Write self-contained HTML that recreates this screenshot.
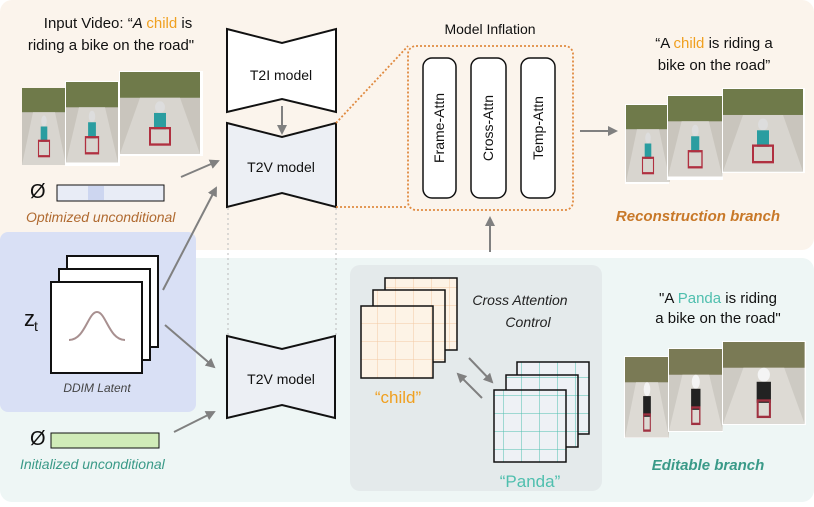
<!DOCTYPE html>
<html><head><meta charset="utf-8"><style>
body{margin:0;width:814px;height:502px;overflow:hidden;background:#fff}
svg text{font-family:"Liberation Sans","DejaVu Sans",sans-serif}
</style></head><body>
<svg width="814" height="502" viewBox="0 0 814 502" xmlns="http://www.w3.org/2000/svg">
<defs>
<marker id="ar" viewBox="0 0 10 10" refX="8" refY="5" markerWidth="5" markerHeight="5" orient="auto"><path d="M0,0 L10,5 L0,10 z" fill="#808080"/></marker>
<pattern id="go" width="18" height="18" patternUnits="userSpaceOnUse"><rect width="18" height="18" fill="#fdf3e6"/><path d="M18,0 V18 M0,18 H18" stroke="#f2c9a4" stroke-width="1"/></pattern>
<pattern id="gt" width="18" height="18" patternUnits="userSpaceOnUse"><rect width="18" height="18" fill="#eef1f5"/><path d="M18,0 V18 M0,18 H18" stroke="#4fbfae" stroke-width="1"/></pattern>
<g id="photo"><rect width="80" height="70" fill="#c9c5bd"/><rect width="80" height="22" fill="#6f7a4a"/><path d="M20,22 L60,22 L80,70 L0,70z" fill="#d8d5cf"/><circle cx="40" cy="30" r="5" fill="#ddd"/><rect x="34" y="35" width="12" height="14" fill="#2a9da0"/><rect x="30" y="48" width="20" height="14" fill="none" stroke="#b03040" stroke-width="2"/></g>
<g id="panda"><rect width="80" height="70" fill="#cdcac3"/><rect width="80" height="22" fill="#7a7a55"/><path d="M20,22 L60,22 L80,70 L0,70z" fill="#dddad4"/><circle cx="40" cy="28" r="6" fill="#f4f4f4"/><rect x="33" y="34" width="14" height="18" fill="#222"/><rect x="34" y="50" width="12" height="14" fill="none" stroke="#a03040" stroke-width="2"/></g>
</defs>
<rect x="0" y="0" width="814" height="250" rx="12" fill="#fbf4ec"/>
<rect x="0" y="258" width="814" height="244" rx="12" fill="#eef6f5"/>
<rect x="0" y="232" width="196" height="180" rx="8" fill="#d9e0f5"/>
<rect x="350" y="265" width="252" height="226" rx="10" fill="#e4eaeb"/>

<text x="118" y="28" font-size="15" text-anchor="middle" fill="#111">Input Video: “<tspan font-style="italic">A </tspan><tspan fill="#f0a020">child</tspan> is</text>
<text x="111" y="50" font-size="15" text-anchor="middle" fill="#111">riding a bike on the road"</text>
<use href="#photo" transform="translate(22,88) scale(0.55,1.1)"/>
<rect x="65" y="81" width="55" height="85" fill="#fff"/><use href="#photo" transform="translate(66,82) scale(0.65,1.15)"/>
<rect x="119" y="71" width="84" height="85" fill="#fff"/><use href="#photo" transform="translate(120,72) scale(1.0,1.17)"/>
<text x="30" y="198" font-size="20" fill="#111">Ø</text>
<rect x="57" y="185" width="107" height="16" fill="#e8ecf6" stroke="#111"/>
<rect x="88" y="186" width="16" height="14" fill="#cdd6f0"/>
<text x="26" y="222" font-size="14" font-style="italic" fill="#b06a30">Optimized unconditional</text>

<path d="M227,29 L282,43 L336,29 L336,112 L282,99 L227,112z" fill="#fff" stroke="#111" stroke-width="2"/>
<text x="281" y="80" font-size="14" text-anchor="middle" fill="#111">T2I model</text>
<line x1="282" y1="106" x2="282" y2="133" stroke="#808080" stroke-width="2" marker-end="url(#ar)"/>
<path d="M227,123 L282,137 L336,123 L336,207 L282,193 L227,207z" fill="#eceff4" stroke="#111" stroke-width="2"/>
<text x="281" y="172" font-size="14" text-anchor="middle" fill="#111">T2V model</text>
<line x1="228" y1="208" x2="228" y2="335" stroke="#bbb" stroke-dasharray="2,3"/>
<line x1="336" y1="208" x2="336" y2="335" stroke="#bbb" stroke-dasharray="2,3"/>
<line x1="181" y1="177" x2="218" y2="161" stroke="#808080" stroke-width="2" marker-end="url(#ar)"/>
<line x1="163" y1="290" x2="216" y2="188" stroke="#808080" stroke-width="2" marker-end="url(#ar)"/>

<path d="M336,123 L408,46 M336,207 L408,207" stroke="#e08a40" stroke-width="1.8" stroke-dasharray="2,2" fill="none"/>
<rect x="408" y="46" width="165" height="164" rx="8" fill="none" stroke="#e08a40" stroke-width="1.8" stroke-dasharray="2,2"/>
<text x="490" y="34" font-size="14" text-anchor="middle" fill="#111">Model Inflation</text>
<rect x="423" y="58" width="33" height="140" rx="9" fill="#fff" stroke="#111" stroke-width="1.5"/>
<rect x="471" y="58" width="35" height="140" rx="9" fill="#fff" stroke="#111" stroke-width="1.5"/>
<rect x="521" y="58" width="34" height="140" rx="9" fill="#fff" stroke="#111" stroke-width="1.5"/>
<text transform="translate(444,128) rotate(-90)" font-size="14" text-anchor="middle" fill="#111">Frame-Attn</text>
<text transform="translate(493,128) rotate(-90)" font-size="14" text-anchor="middle" fill="#111">Cross-Attn</text>
<text transform="translate(543,128) rotate(-90)" font-size="14" text-anchor="middle" fill="#111">Temp-Attn</text>
<line x1="580" y1="131" x2="616" y2="131" stroke="#808080" stroke-width="2" marker-end="url(#ar)"/>
<line x1="490" y1="252" x2="490" y2="218" stroke="#808080" stroke-width="2" marker-end="url(#ar)"/>

<text x="714" y="48" font-size="15" text-anchor="middle" fill="#111">“A <tspan fill="#f0a020">child</tspan> is riding a</text>
<text x="714" y="70" font-size="15" text-anchor="middle" fill="#111">bike on the road”</text>
<rect x="625" y="104" width="44" height="80" fill="#fff"/><use href="#photo" transform="translate(626,105) scale(0.55,1.1)"/>
<rect x="667" y="95" width="56" height="85" fill="#fff"/><use href="#photo" transform="translate(668,96) scale(0.68,1.15)"/>
<rect x="722" y="88" width="83" height="85" fill="#fff"/><use href="#photo" transform="translate(723,89) scale(1.0,1.18)"/>
<text x="698" y="221" font-size="15" font-weight="bold" font-style="italic" text-anchor="middle" fill="#c87828">Reconstruction branch</text>

<rect x="67" y="256" width="91" height="91" fill="#fff" stroke="#111" stroke-width="2"/>
<rect x="59" y="269" width="91" height="91" fill="#fff" stroke="#111" stroke-width="2"/>
<rect x="51" y="282" width="91" height="91" fill="#fff" stroke="#111" stroke-width="2"/>
<path d="M69,340 C85,340 88,312 97,312 C106,312 109,340 125,340" fill="none" stroke="#a89090" stroke-width="2"/>
<text x="24" y="326" font-size="22" font-family="Liberation Serif" fill="#111">z</text><text x="34" y="331" font-size="14" fill="#111">t</text>
<text x="97" y="392" font-size="12" font-style="italic" text-anchor="middle" fill="#444">DDIM Latent</text>
<line x1="165" y1="325" x2="214" y2="367" stroke="#808080" stroke-width="2" marker-end="url(#ar)"/>
<path d="M227,336 L282,349 L335,336 L335,418 L282,405 L227,418z" fill="#eceff4" stroke="#111" stroke-width="2"/>
<text x="281" y="384" font-size="14" text-anchor="middle" fill="#111">T2V model</text>
<text x="30" y="445" font-size="20" fill="#111">Ø</text>
<rect x="51" y="433" width="108" height="15" fill="#d0ebb8" stroke="#111"/>
<line x1="174" y1="432" x2="214" y2="412" stroke="#808080" stroke-width="2" marker-end="url(#ar)"/>
<text x="20" y="469" font-size="14" font-style="italic" fill="#3a9a88">Initialized unconditional</text>

<rect x="385" y="278" width="72" height="72" fill="url(#go)" stroke="#111" stroke-width="1.5"/>
<rect x="373" y="290" width="72" height="72" fill="url(#go)" stroke="#111" stroke-width="1.5"/>
<rect x="361" y="306" width="72" height="72" fill="url(#go)" stroke="#111" stroke-width="1.5"/>
<text x="398" y="403" font-size="17" text-anchor="middle" fill="#f0a020">“child”</text>
<text x="520" y="305" font-size="14" font-style="italic" text-anchor="middle" fill="#222">Cross Attention</text>
<text x="528" y="327" font-size="14" font-style="italic" text-anchor="middle" fill="#222">Control</text>
<line x1="469" y1="358" x2="492" y2="382" stroke="#808080" stroke-width="2" marker-end="url(#ar)"/>
<line x1="482" y1="398" x2="458" y2="374" stroke="#808080" stroke-width="2" marker-end="url(#ar)"/>
<rect x="517" y="362" width="72" height="72" fill="url(#gt)" stroke="#111" stroke-width="1.5"/>
<rect x="506" y="375" width="72" height="72" fill="url(#gt)" stroke="#111" stroke-width="1.5"/>
<rect x="494" y="390" width="72" height="72" fill="url(#gt)" stroke="#111" stroke-width="1.5"/>
<text x="530" y="487" font-size="17" text-anchor="middle" fill="#4fbfae">“Panda”</text>

<text x="718" y="303" font-size="15" text-anchor="middle" fill="#111">"A <tspan fill="#4fbfae">Panda</tspan> is riding</text>
<text x="718" y="323" font-size="15" text-anchor="middle" fill="#111">a bike on the road"</text>
<rect x="624" y="356" width="44" height="82" fill="#fff"/><use href="#panda" transform="translate(625,357) scale(0.55,1.15)"/>
<rect x="668" y="348" width="55" height="84" fill="#fff"/><use href="#panda" transform="translate(669,349) scale(0.67,1.17)"/>
<rect x="722" y="341" width="84" height="84" fill="#fff"/><use href="#panda" transform="translate(723,342) scale(1.02,1.17)"/>
<text x="708" y="470" font-size="15" font-weight="bold" font-style="italic" text-anchor="middle" fill="#3a9a88">Editable branch</text>
</svg>
</body></html>
